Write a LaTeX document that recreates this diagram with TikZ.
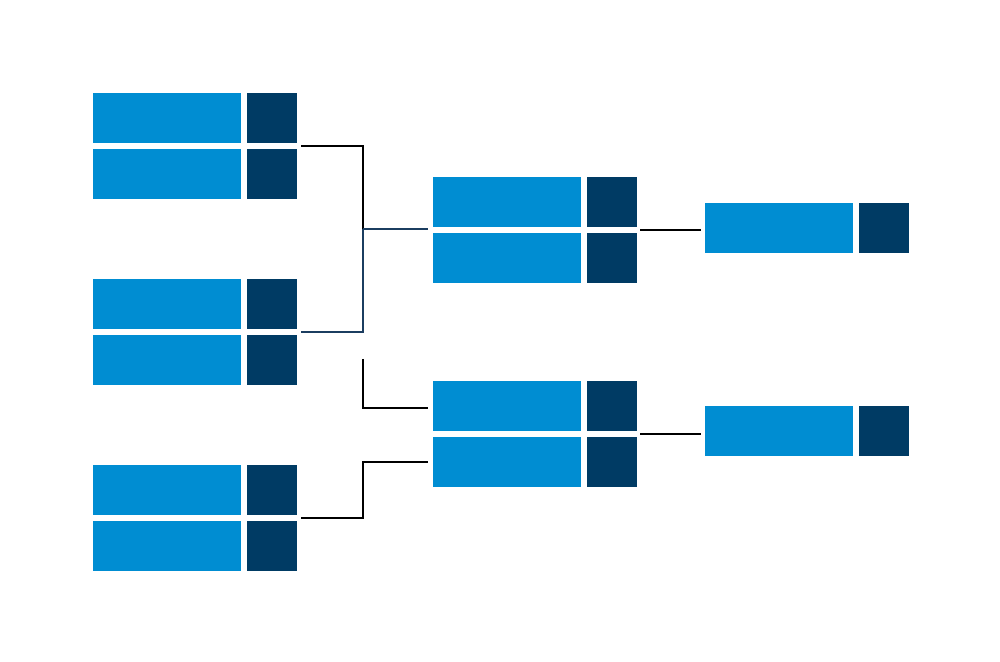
\documentclass[tikz,border=0pt]{standalone}
\usepackage{xcolor}
\usepackage{tikz}
\usetikzlibrary{positioning,calc}

\definecolor{teamblue}{HTML}{008DD2}
\definecolor{scorenavy}{HTML}{003B64}
\definecolor{linknavy}{HTML}{1B3D60}

\begin{document}
\begin{tikzpicture}[x=0.01cm,y=-0.01cm,
    team/.style={fill=teamblue, minimum width=1.48cm, minimum height=0.5cm, inner sep=0pt},
    score/.style={fill=scorenavy, minimum width=0.5cm, minimum height=0.5cm, inner sep=0pt},
    link/.style={line width=0.6pt, black},
    navylink/.style={line width=0.6pt, linknavy}]
  % Page
  \fill[white] (0,0) rectangle (1000,662);
  \useasboundingbox (0,0) rectangle (1000,662);

  % Round 1, group 1
  \node[team, anchor=north west] (t1a) at (92,92) {};
  \node[team, below=0.05cm of t1a] (t1b) {};
  \node[score, right=0.045cm of t1a] (s1a) {};
  \node[score, right=0.045cm of t1b] (s1b) {};
  % Round 1, group 2
  \node[team, anchor=north west] (t2a) at (92,278) {};
  \node[team, below=0.05cm of t2a] (t2b) {};
  \node[score, right=0.045cm of t2a] (s2a) {};
  \node[score, right=0.045cm of t2b] (s2b) {};
  % Round 1, group 3
  \node[team, anchor=north west] (t3a) at (92,464) {};
  \node[team, below=0.05cm of t3a] (t3b) {};
  \node[score, right=0.045cm of t3a] (s3a) {};
  \node[score, right=0.045cm of t3b] (s3b) {};

  % Round 2, upper group
  \node[team, anchor=north west] (t5a) at (432,176) {};
  \node[team, below=0.05cm of t5a] (t5b) {};
  \node[score, right=0.045cm of t5a] (s5a) {};
  \node[score, right=0.045cm of t5b] (s5b) {};
  % Round 2, lower group
  \node[team, anchor=north west] (t6a) at (432,380) {};
  \node[team, below=0.05cm of t6a] (t6b) {};
  \node[score, right=0.045cm of t6a] (s6a) {};
  \node[score, right=0.045cm of t6b] (s6b) {};

  % Final slots
  \node[team, anchor=north west] (t7) at (704,202) {};
  \node[score, right=0.045cm of t7] (s7) {};
  \node[team, anchor=north west] (t8) at (704,405) {};
  \node[score, right=0.045cm of t8] (s8) {};

  % Bracket joints
  \coordinate (o1) at ($(s1a.south east)!.5!(s1b.north east)+(4,0)$);
  \coordinate (o2) at ($(s2a.south east)!.5!(s2b.north east)+(4,0)$);
  \coordinate (o3) at ($(s3a.south east)!.5!(s3b.north east)+(4,0)$);
  \coordinate (o5) at ($(s5a.south east)!.5!(s5b.north east)+(3,0)$);
  \coordinate (o6) at ($(s6a.south east)!.5!(s6b.north east)+(3,0)$);
  \coordinate (j1) at (363,229);
  \coordinate (j2) at (363,359);

  % Round 1 to round 2
  \draw[link] (o1) -| (j1);
  \draw[navylink] (o2) -| (j1);
  \draw[navylink] (j1) -- ($(j1 -| t5a.west)+(-4,0)$);
  \draw[link] (j2) |- ($(t6a.west)+(-4,2)$);
  \draw[link] (o3) -| ($(t6b.west)+(-69,0)$) -- ($(t6b.west)+(-4,0)$);

  % Round 2 to final
  \draw[link] (o5) -- ($(o5 -| t7.west)+(-3,0)$);
  \draw[link] (o6) -- ($(o6 -| t8.west)+(-3,0)$);
\end{tikzpicture}
\end{document}
